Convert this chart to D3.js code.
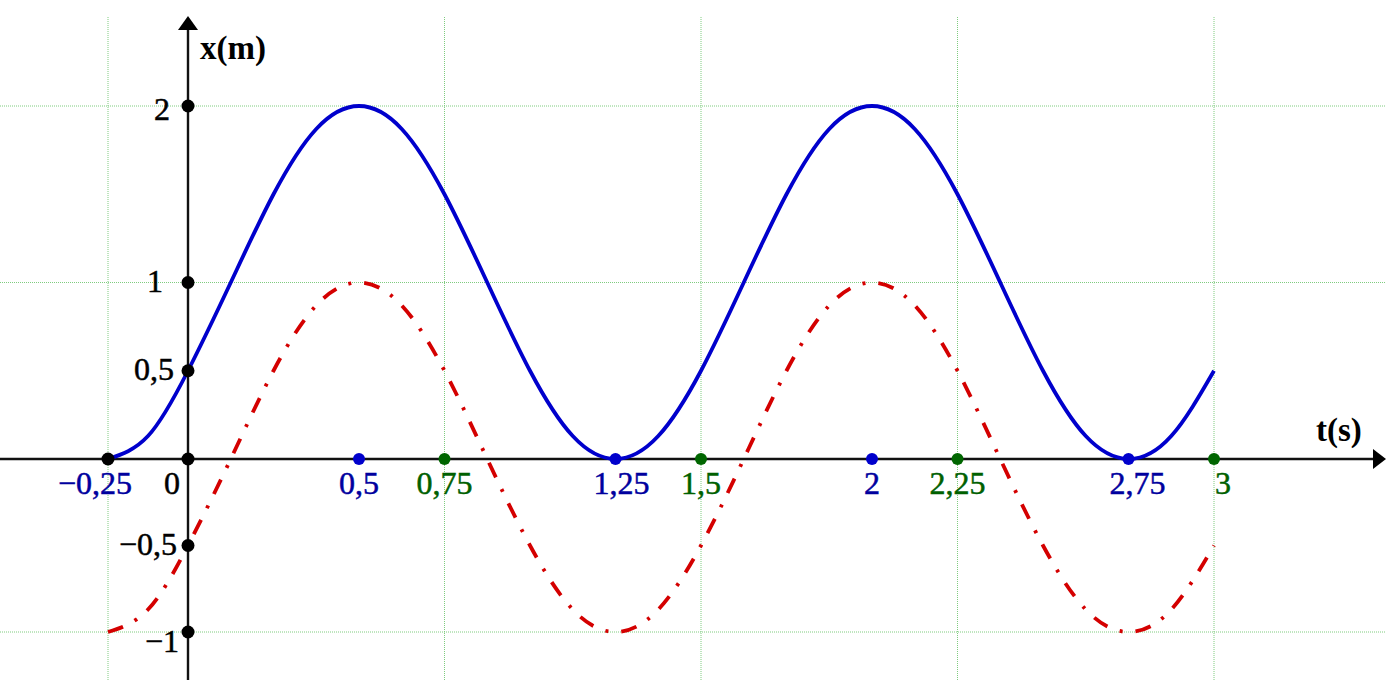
<!DOCTYPE html>
<html>
<head>
<meta charset="utf-8">
<script src="https://cdn.jsdelivr.net/npm/d3@7"></script>
<style>
  html, body { margin: 0; padding: 0; background: #fff; }
  svg { display: block; }
  text { font-family: "Liberation Serif", "Times New Roman", serif; }
</style>
</head>
<body>
<svg id="chart" width="1395" height="680"></svg>
<script>
// time samples (s) and readings of both curves off the picture
const times = [-0.25, -0.125, 0, 0.125, 0.25, 0.375, 0.5, 0.625, 0.75, 0.875, 1, 1.125, 1.25,
  1.375, 1.5, 1.625, 1.75, 1.875, 2, 2.125, 2.25, 2.375, 2.5, 2.625, 2.75, 2.875, 3];
const blueX = [0, 0.13, 0.5, 1, 1.5, 1.87, 2, 1.87, 1.5, 1, 0.5, 0.13, 0,
  0.13, 0.5, 1, 1.5, 1.87, 2, 1.87, 1.5, 1, 0.5, 0.13, 0, 0.13, 0.5];
const redX = [-1, -0.87, -0.5, 0, 0.5, 0.87, 1, 0.87, 0.5, 0, -0.5, -0.87, -1,
  -0.87, -0.5, 0, 0.5, 0.87, 1, 0.87, 0.5, 0, -0.5, -0.87, -1, -0.87, -0.5];

// grid
const tGrid = [-0.25, 0.75, 1.5, 2.25, 3];
const xGrid = [-1, 1, 2];

// ticks on the time axis
const tTicks = [-0.25, 0, 0.5, 0.75, 1.25, 1.5, 2, 2.25, 2.75, 3];
const tTickText = ["\u22120,25", "0", "0,5", "0,75", "1,25", "1,5", "2", "2,25", "2,75", "3"];
const tTickColor = ["blue", "black", "blue", "green", "blue", "green", "blue", "green", "blue", "green"];
const tDotColor = ["black", "black", "blue", "green", "blue", "green", "blue", "green", "blue", "green"];

// ticks on the x axis
const xTicks = [2, 1, 0.5, -0.5, -1];
const xTickText = ["2", "1", "0,5", "\u22120,5", "\u22121"];

const palette = {
  black: { dot: "#000", text: "#000" },
  blue: { dot: "#0000cc", text: "#00009e" },
  green: { dot: "#006600", text: "#006000" }
};

const svg = d3.select("#chart");
const W = 1395, H = 680;

const t = d3.scaleLinear().domain([-0.25, 0, 3]).range([108, 188, 1214]);
const x = d3.scaleLinear().domain([-1, 0, 2]).range([632, 459, 106]);

const x0 = t(0), y0 = x(0);

// grid lines
const grid = svg.append("g")
  .attr("stroke", "#7fcc7f")
  .attr("stroke-width", 1)
  .attr("stroke-dasharray", "1 1");
grid.selectAll("line.v").data(tGrid).join("line").attr("class", "v")
  .attr("x1", d => t(d)).attr("x2", d => t(d))
  .attr("y1", 17).attr("y2", H);
grid.selectAll("line.h").data(xGrid).join("line").attr("class", "h")
  .attr("x1", 0).attr("x2", 1386)
  .attr("y1", d => x(d)).attr("y2", d => x(d));

// axes with arrows
const axes = svg.append("g");
axes.append("line")
  .attr("x1", 0).attr("x2", 1374).attr("y1", y0).attr("y2", y0)
  .attr("stroke", "#111").attr("stroke-width", 2.4);
axes.append("line")
  .attr("x1", x0).attr("x2", x0).attr("y1", H).attr("y2", 29)
  .attr("stroke", "#111").attr("stroke-width", 2.4);
axes.append("path")
  .attr("d", `M1386,${y0} L1373,${y0 - 10} L1373,${y0 + 10} Z`)
  .attr("fill", "#000");
axes.append("path")
  .attr("d", `M${x0},16 L${x0 - 10},30 L${x0 + 10},30 Z`)
  .attr("fill", "#000");

// curves
const line = d3.line().curve(d3.curveNatural);
const bluePts = times.map((d, i) => [t(d), x(blueX[i])]);
const redPts = times.map((d, i) => [t(d), x(redX[i])]);

svg.append("path")
  .attr("d", line(redPts))
  .attr("fill", "none")
  .attr("stroke", "#d40000")
  .attr("stroke-width", 3.8)
  .attr("stroke-dasharray", "16 13 3 13");

svg.append("path")
  .attr("d", line(bluePts))
  .attr("fill", "none")
  .attr("stroke", "#0000cc")
  .attr("stroke-width", 3.8);

// dots on the axes
svg.append("g").selectAll("circle").data(tTicks).join("circle")
  .attr("cx", d => t(d)).attr("cy", y0)
  .attr("r", (d, i) => tDotColor[i] === "black" ? 6.5 : 6)
  .attr("fill", (d, i) => palette[tDotColor[i]].dot);

svg.append("g").selectAll("circle").data(xTicks).join("circle")
  .attr("cx", x0).attr("cy", d => x(d))
  .attr("r", 6.5)
  .attr("fill", "#000");

// tick labels
const tNudge = { "-0.25": -13, "0": -16, "1.25": 6, "2.75": 9, "3": 9 };
svg.append("g")
  .attr("font-size", 32)
  .attr("text-anchor", "middle")
  .attr("stroke-width", 0.5)
  .selectAll("text").data(tTicks).join("text")
  .attr("x", d => t(d) + (tNudge[String(d)] || 0))
  .attr("y", 494)
  .attr("fill", (d, i) => palette[tTickColor[i]].text)
  .attr("stroke", (d, i) => palette[tTickColor[i]].text)
  .text((d, i) => tTickText[i]);

const xNudge = { "2": 14, "1": 9, "0.5": 9, "-0.5": 9, "-1": 20 };
const xRight = { "2": 170, "1": 163, "0.5": 174, "-0.5": 177, "-1": 179 };
svg.append("g")
  .attr("font-size", 32)
  .attr("text-anchor", "end")
  .attr("fill", "#000")
  .attr("stroke", "#000")
  .attr("stroke-width", 0.5)
  .selectAll("text").data(xTicks).join("text")
  .attr("x", d => xRight[String(d)])
  .attr("y", d => x(d) + xNudge[String(d)])
  .text((d, i) => xTickText[i]);

// axis titles
svg.append("text")
  .attr("x", 200).attr("y", 59)
  .attr("font-size", 33).attr("font-weight", "bold")
  .text("x(m)");
svg.append("text")
  .attr("x", 1316).attr("y", 441)
  .attr("font-size", 33).attr("font-weight", "bold")
  .text("t(s)");
</script>
</body>
</html>
